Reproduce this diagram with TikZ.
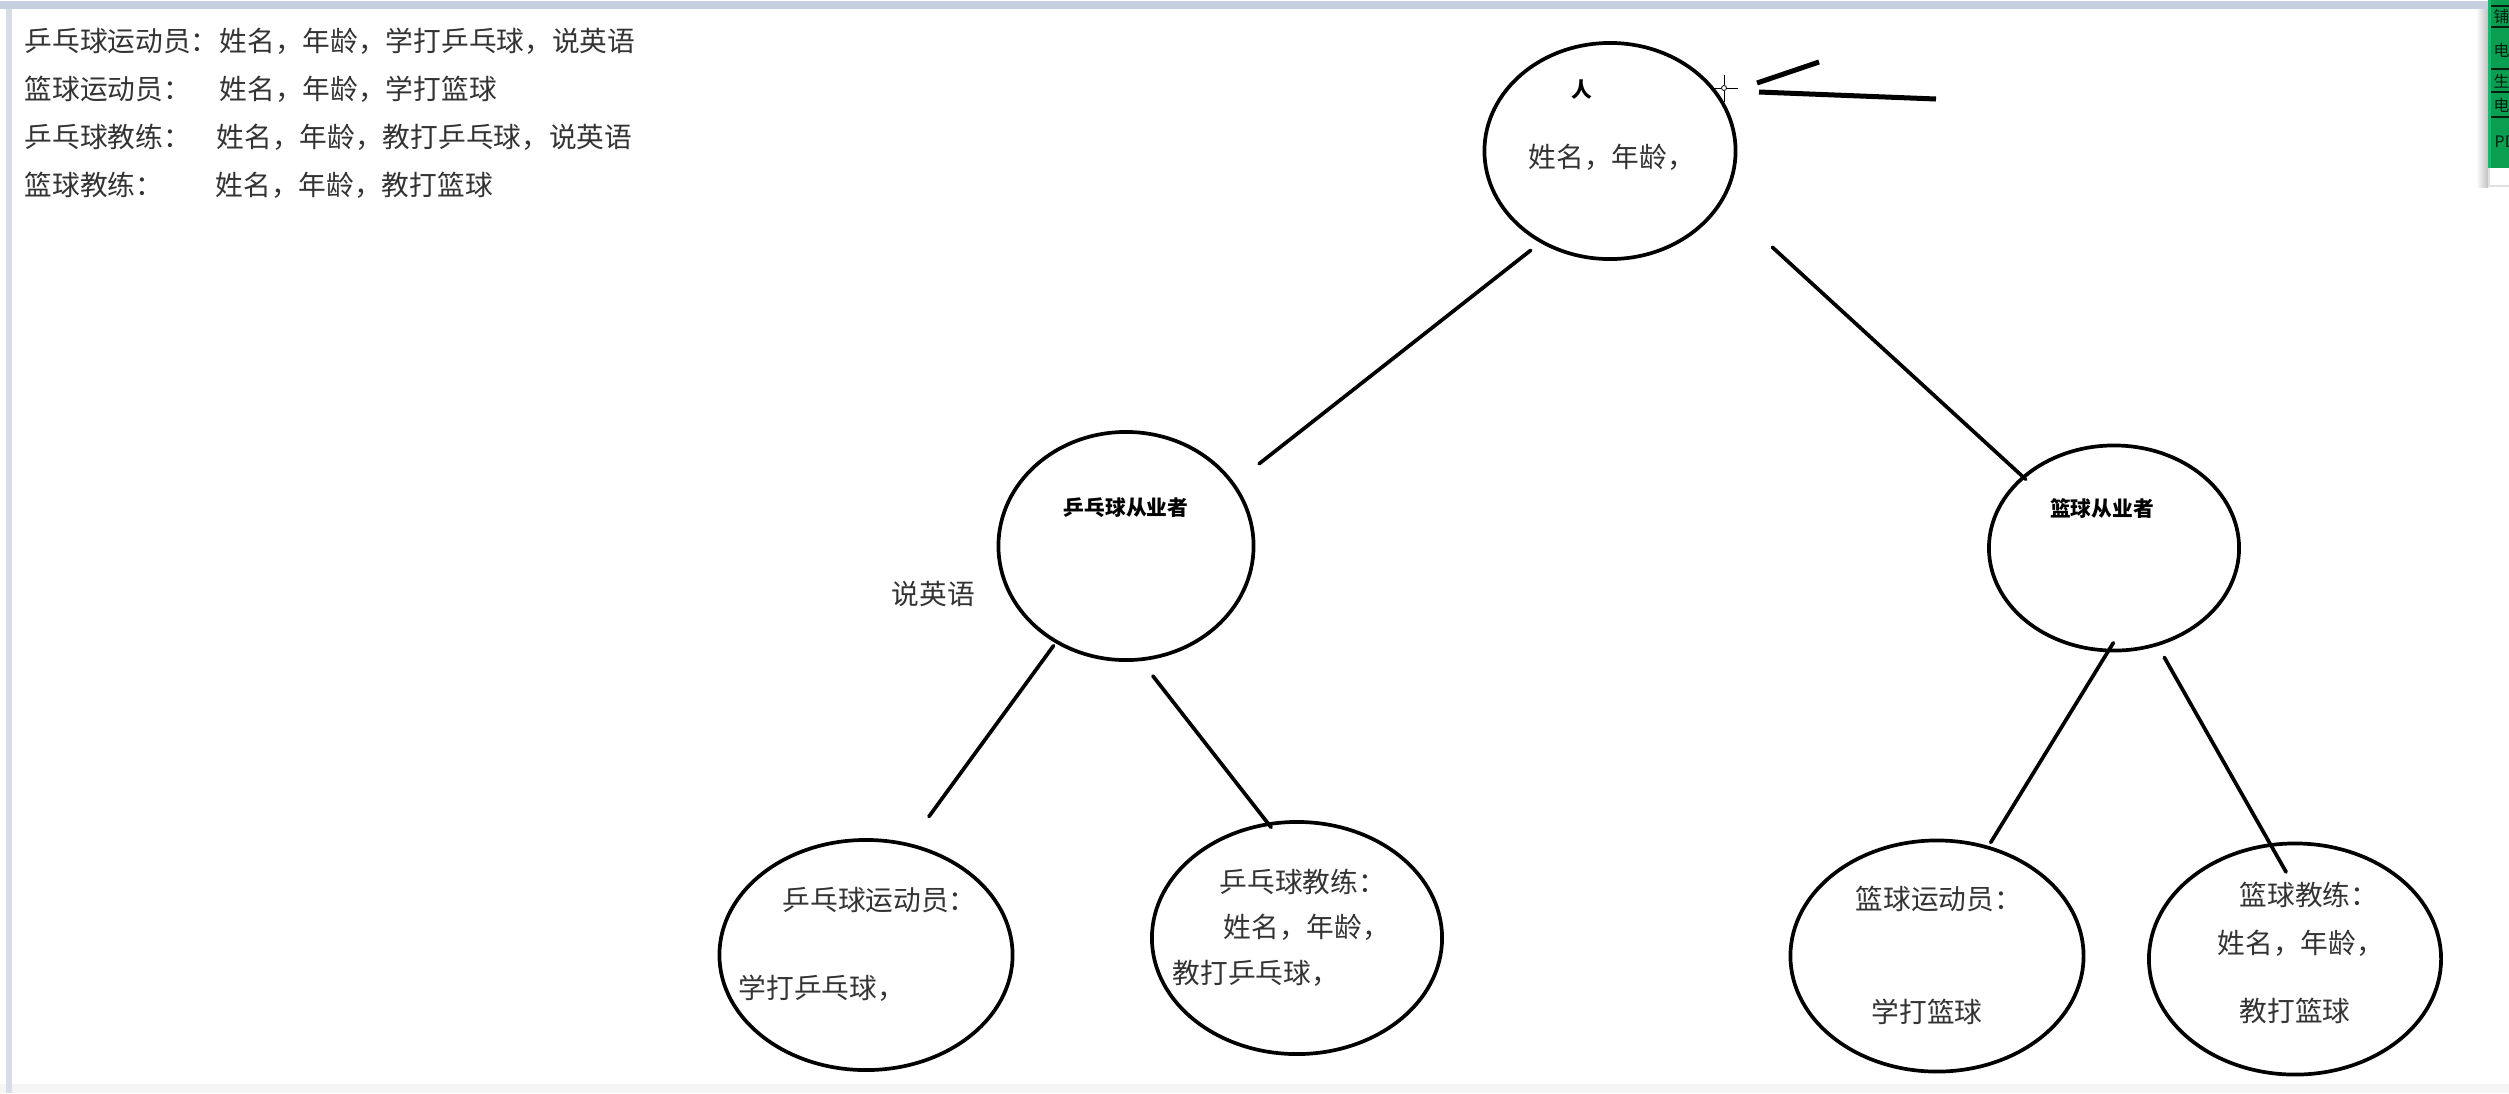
\documentclass[tikz,border=0pt]{standalone}
\usepackage{fontspec}
\setmainfont{Noto Sans CJK SC}
\usetikzlibrary{shapes.geometric}
\definecolor{barblue}{HTML}{C5CFE0}
\definecolor{panelgreen}{HTML}{0A9F50}
\definecolor{paneledge}{HTML}{12B96E}
\definecolor{inkgrey}{HTML}{333333}
\tikzset{
    bubble/.style={draw=black,ellipse,line width=.037cm,inner sep=0pt,outer sep=0pt},
    word/.style={anchor=west,inner sep=0pt,text=inkgrey,font=\fontsize{7.88}{9}\selectfont},
    boldword/.style={anchor=center,inner sep=0pt,text=black,font=\fontsize{5.9}{7}\selectfont\bfseries},
    paneltext/.style={anchor=west,inner sep=0pt,text=black!80!panelgreen,font=\fontsize{4.5}{5}\selectfont},
    link/.style={line width=.037cm,line cap=round},
    stroke/.style={line width=.05cm}
}
\begin{document}
\begin{tikzpicture}[x=.01cm,y=-.01cm]
        \useasboundingbox (0,0) rectangle (2509,1093);
        \fill[white] (0,0) rectangle (2509,1093);
        \fill[black!4] (0,1084) rectangle (2509,1093);
        \fill[barblue] (0,1) rectangle (2509,9);
        \fill[barblue!70] (6,9) rectangle (12,1093);

        \node[word] (rowa) at (24,41) {乒乓球运动员：};
        \node[word] (rowb) at (24,89) {篮球运动员：};
        \node[word] (rowc) at (24,137) {乒乓球教练：};
        \node[word] (rowd) at (24,185) {篮球教练：};
        \node[word] (vala) at (219,41) {姓名，年龄，学打乒乓球，说英语};
        \node[word] (valb) at (219,89) {姓名，年龄，学打篮球};
        \node[word] (valc) at (216,137) {姓名，年龄，教打乒乓球，说英语};
        \node[word] (vald) at (215,185) {姓名，年龄，教打篮球};

        \node[bubble,minimum width=2.51cm,minimum height=2.16cm] (person) at (1610,151) {};
        \node[bubble,minimum width=2.55cm,minimum height=2.28cm] (ppworker) at (1126,546) {};
        \node[bubble,minimum width=2.50cm,minimum height=2.05cm] (bbworker) at (2114,548) {};
        \node[bubble,minimum width=2.93cm,minimum height=2.30cm] (ppplayer) at (866,955) {};
        \node[bubble,minimum width=2.90cm,minimum height=2.32cm] (ppcoach) at (1297,938) {};
        \node[bubble,minimum width=2.93cm,minimum height=2.31cm] (bbplayer) at (1937,956) {};
        \node[bubble,minimum width=2.92cm,minimum height=2.31cm] (bbcoach) at (2295,959) {};

        \node[boldword] (persontitle) at (1582,90) {人};
        \node[word] (personinfo) at (1528,157) {姓名，年龄，};
        \node[boldword] (pptitle) at (1126,508) {乒乓球从业者};
        \node[boldword] (bbtitle) at (2102,509) {篮球从业者};
        \node[word] (english) at (891,594) {说英语};

        \node[word] (pplayertitle) at (782,900) {乒乓球运动员：};
        \node[word] (pplayerinfo) at (738,988) {学打乒乓球，};
        \node[word] (pcoachtitle) at (1219,882) {乒乓球教练：};
        \node[word] (pcoachinfo) at (1223,927) {姓名，年龄，};
        \node[word] (pcoachplay) at (1172,973) {教打乒乓球，};
        \node[word] (bplayertitle) at (1855,899) {篮球运动员：};
        \node[word] (bplayerinfo) at (1871,1012) {学打篮球};
        \node[word] (bcoachtitle) at (2239,895) {篮球教练：};
        \node[word] (bcoachinfo) at (2217,943) {姓名，年龄，};
        \node[word] (bcoachplay) at (2239,1011) {教打篮球};

        \path[link]
        (person.233) edge[shorten <=.14cm,shorten >=.33cm] (ppworker.30)
        (person.336) edge[shorten <=.69cm,shorten >=-.03cm] (bbworker.142)
        (ppworker.234) edge[shorten <=.05cm,shorten >=.35cm] (ppplayer.69)
        (ppworker.277) edge[shorten <=.21cm,shorten >=-.04cm] (ppcoach.104)
        (bbworker.267) edge[shorten <=-.09cm,shorten >=.06cm] (bbplayer.65)
        (bbworker.294) edge[shorten <=.15cm,shorten >=-.31cm] (bbcoach.102);

        \coordinate (strokea) at (1757,83);
        \coordinate (strokeb) at (1819,62);
        \coordinate (strokec) at (1759,92);
        \coordinate (stroked) at (1936,99);
        \draw[stroke] (strokea) -- (strokeb);
        \draw[stroke] (strokec) -- (stroked);

        \node[draw=black,circle,line width=.008cm,minimum size=.05cm,inner sep=0pt] (cursor) at (1724,88) {};
        \draw[line width=.008cm] (1712,88) -- (cursor.west) (cursor.east) -- (1738,88)
            (1724,75) -- (cursor.north) (cursor.south) -- (1724,102);

        \shade[left color=white,right color=black!25] (2476,9) rectangle (2488,187);
        \fill[black!12] (2488,168) rectangle (2509,187);
        \fill[white] (2490,168) rectangle (2509,185);
        \fill[paneledge] (2488,0) rectangle (2491,168);
        \fill[panelgreen] (2491,0) rectangle (2509,168);
        \draw[black!80!panelgreen,line width=.012cm]
            (2491,6) -- (2509,6) (2491,27) -- (2509,27) (2491,69) -- (2509,69)
            (2491,92) -- (2509,92) (2491,117) -- (2509,117);
        \begin{scope}
            \clip (2488,0) rectangle (2509,168);
            \node[paneltext] (tabpave) at (2493,16) {铺};
            \node[paneltext] (tabpower) at (2493,50) {电};
            \node[paneltext] (tablife) at (2493,81) {生};
            \node[paneltext] (tabelec) at (2493,105) {电};
            \node[paneltext] (tabpd) at (2494,142) {PD};
        \end{scope}
\end{tikzpicture}
\end{document}
